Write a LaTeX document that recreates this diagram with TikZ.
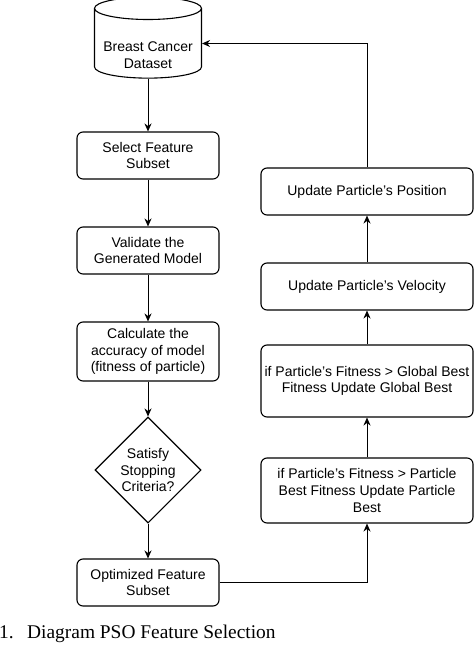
\documentclass[tikz,border=0pt]{standalone}
\usepackage{fontspec}
\setmainfont{Liberation Sans}
\newfontfamily\capfont{Liberation Serif}
\usetikzlibrary{arrows.meta,shapes.geometric}

\begin{document}
\begin{tikzpicture}[x=1pt, y=-1pt, >={Stealth[length=8pt, width=7pt]},
    procbox/.style={draw, rounded corners=6pt, line width=1.1pt, align=center,
        inner sep=0pt, minimum width=142pt, minimum height=47pt,
        font=\fontsize{14}{16.7}\selectfont},
    pbox/.style={procbox, minimum width=212pt},
    flow/.style={->, line width=0.9pt}]
        \useasboundingbox (0,0) rectangle (474,645);
        % left column
        \node [draw, cylinder, shape border rotate=90, aspect=0.25, line width=1.1pt,
            minimum width=107pt, minimum height=81pt, inner sep=0pt, align=center,
            font=\fontsize{14}{16.7}\selectfont] (ds) at (148, 43.5) {\phantom{Breast Cancer}\\\phantom{Dataset}};
        \node [align=center, inner sep=0pt, font=\fontsize{14}{16.7}\selectfont] (dstext) at (148, 55.5) {Breast Cancer\\Dataset};
        \node [procbox] (sel) at (148, 155.5) {Select Feature\\Subset};
        \node [procbox] (val) at (148, 250.5) {Validate the\\Generated Model};
        \node [procbox, minimum height=59pt] (acc) at (148, 351.5) {Calculate the\\accuracy of model\\(fitness of particle)};
        \node [draw, diamond, line width=1.1pt, minimum width=106pt, minimum height=106pt,
            inner sep=0pt, align=center, font=\fontsize{14}{16.7}\selectfont] (stop) at (148, 470) {Satisfy\\Stopping\\Criteria?};
        \node [procbox] (opt) at (148, 582.5) {Optimized Feature\\Subset};
        % right column
        \node [pbox, minimum height=65pt] (pbest) at (367, 490.5) {if Particle’s Fitness > Particle\\Best Fitness Update Particle\\Best};
        \node [pbox, minimum height=72pt] (gbest) at (367, 381) {if Particle’s Fitness > Global Best\\Fitness Update Global Best};
        \node [pbox] (vel) at (367, 286.5) {Update Particle’s Velocity};
        \node [pbox] (pos) at (367, 191.5) {Update Particle’s Position};
        % arrows
        \draw [flow] (ds.south) -- (sel.north);
        \draw [flow] (sel.south) -- (val.north);
        \draw [flow] (val.south) -- (acc.north);
        \draw [flow] (acc.south) -- (stop.north);
        \draw [flow] (stop.south) -- (opt.north);
        \draw [flow] (opt.east) -| (pbest.south);
        \draw [flow] (pbest.north) -- (gbest.south);
        \draw [flow] (gbest.north) -- (vel.south);
        \draw [flow] (vel.north) -- (pos.south);
        \draw [flow] (pos.north) |- (ds.east);
        % caption
        \node [anchor=base west, inner sep=0pt, font=\capfont\fontsize{19.4}{22}\selectfont] (cap) at (-1, 638)
            {1.\hspace{13.5pt}Diagram PSO Feature Selection};
\end{tikzpicture}
\end{document}
